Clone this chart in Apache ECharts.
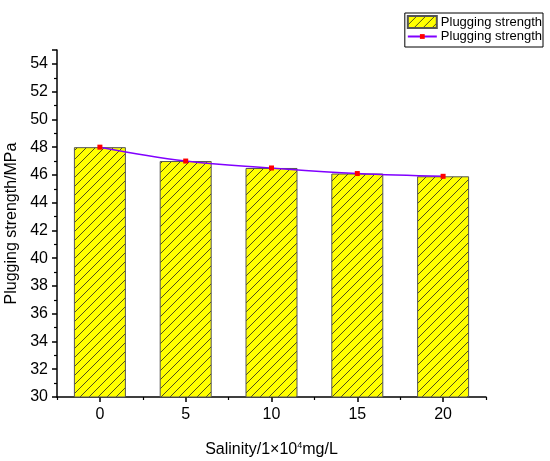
<!DOCTYPE html>
<html lang="en">
<head>
    <meta charset="utf-8">
    <title>Plugging strength</title>
    <script src="https://cdn.jsdelivr.net/npm/echarts@6/dist/echarts.min.js"></script>
    <style>
        html, body {margin: 0; padding: 0; background: #fff;}
        #chart {width: 550px; height: 461px;}
    </style>
</head>
<body>
<div id="chart"></div>
<script type="text/javascript">
    // salinity (1x10^4 mg/L) and plugging strength (MPa)
    const salinity = [0, 5, 10, 15, 20];
    const strength = [48.0, 47.0, 46.5, 46.1, 45.9];
    const xTicks = [0, 5, 10, 15, 20];
    const xMinorTicks = [-2.5, 2.5, 7.5, 12.5, 17.5, 22.5];
    // both series carry the same label; the trailing space keeps the legend entries apart
    const barName = 'Plugging strength';
    const lineName = 'Plugging strength ';

    const FONT = 'Arial, "Liberation Sans", sans-serif';

    // yellow fill with black "/" hatching
    function hatch()
    {
        const c = document.createElement('canvas');
        c.width = 9;
        c.height = 9;
        const g = c.getContext('2d');
        g.fillStyle = '#ffff00';
        g.fillRect(0, 0, 9, 9);
        g.strokeStyle = '#222';
        g.lineWidth = 0.8;
        g.beginPath();
        g.moveTo(-1, 10); g.lineTo(10, -1);
        g.moveTo(-1, 1); g.lineTo(1, -1);
        g.moveTo(8, 10); g.lineTo(10, 8);
        g.stroke();
        return c;
    }

    const pairs = salinity.map(function (s, i) { return [s, strength[i]]; });
    const legendText = {fontSize: 13, color: '#000', fontFamily: FONT, padding: [0, 0, 0, -1]};

    const chart = echarts.init(document.getElementById('chart'));
    const option = {
        animation: false,
        textStyle: {fontFamily: FONT},
        grid: {left: 57, right: 64, top: 50, bottom: 64, outerBoundsMode: 'none'},
        legend: [
            {
                // framed box, bar entry on the first row
                orient: 'vertical',
                right: 7,
                top: 13,
                padding: [2, 1, 18, 2],
                itemWidth: 29,
                itemHeight: 12,
                borderColor: '#000',
                borderWidth: 1,
                borderRadius: 0,
                formatter: function (name) { return name.trim(); },
                textStyle: legendText,
                data: [{name: barName, icon: 'rect'}]
            },
            {
                // line entry on the second row, small marker
                orient: 'vertical',
                right: 8,
                top: 30,
                padding: [0, 0, 0, 2],
                itemWidth: 29,
                itemHeight: 6,
                formatter: function (name) { return name.trim(); },
                textStyle: legendText,
                data: [{name: lineName}]
            }
        ],
        xAxis: [
            {
                type: 'value',
                min: -2.5,
                max: 22.5,
                interval: 2.5,
                name: 'Salinity/1×10{sup|4}mg/L',
                nameLocation: 'middle',
                nameGap: 44,
                nameTextStyle: {
                    fontSize: 16, color: '#000', fontFamily: FONT,
                    rich: {sup: {fontSize: 9, verticalAlign: 'top', padding: [0, 0, 8, 0], color: '#000'}}
                },
                axisLine: {onZero: false, lineStyle: {color: '#000', width: 1.5}},
                axisTick: {show: true, length: 5, customValues: xTicks, lineStyle: {color: '#000', width: 1.5}},
                axisLabel: {fontSize: 16, color: '#000', margin: 10, customValues: xTicks},
                splitLine: {show: false}
            },
            {
                type: 'value',
                position: 'bottom',
                min: -2.5,
                max: 22.5,
                interval: 2.5,
                axisLine: {show: false, onZero: false},
                axisTick: {show: true, length: 3, customValues: xMinorTicks, lineStyle: {color: '#000', width: 1.2}},
                axisLabel: {show: false},
                splitLine: {show: false}
            }
        ],
        yAxis: {
            type: 'value',
            min: 30,
            max: 55,
            interval: 2,
            name: 'Plugging strength/MPa',
            nameLocation: 'middle',
            nameGap: 32,
            nameTextStyle: {fontSize: 16, color: '#000', fontFamily: FONT},
            axisLine: {show: true, onZero: false, lineStyle: {color: '#000', width: 1.5}},
            axisTick: {show: true, length: 5, lineStyle: {color: '#000', width: 1.5}},
            minorTick: {show: true, splitNumber: 2, length: 3, lineStyle: {color: '#000', width: 1.2}},
            axisLabel: {fontSize: 16, color: '#000', margin: 9},
            splitLine: {show: false}
        },
        series: [
            {
                name: barName,
                type: 'bar',
                barWidth: 52,
                itemStyle: {
                    color: {image: hatch(), repeat: 'repeat'},
                    borderColor: '#555',
                    borderWidth: 1
                },
                data: pairs
            },
            {
                name: lineName,
                type: 'line',
                smooth: 0.4,
                symbol: 'rect',
                symbolSize: 5,
                lineStyle: {color: '#8000ff', width: 1.5},
                itemStyle: {color: '#ff0000'},
                data: pairs,
                z: 5
            }
        ]
    };
    chart.setOption(option);
</script>
</body>
</html>
